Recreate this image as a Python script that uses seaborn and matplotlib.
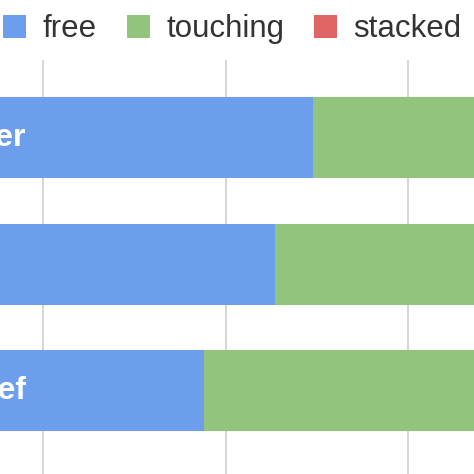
import pandas as pd
import numpy as np
import matplotlib
matplotlib.use('Agg')
import matplotlib.pyplot as plt
from matplotlib.patches import Patch
import seaborn as sns

categories = ['Other', 'Mid', 'Chief']
free = [248, 227, 188]
touching = [120, 140, 180]
stacked = [10, 10, 10]
series_names = ['free', 'touching', 'stacked']
colors = ['#6d9eeb', '#93c47d', '#e06666']

sns.set_theme(style='white')
plt.rcParams['font.family'] = ['Liberation Sans', 'DejaVu Sans']

df = pd.DataFrame({'cat': categories, 'free': free, 'touching': touching, 'stacked': stacked})
df['c_free'] = df['free']
df['c_touch'] = df['free'] + df['touching']
df['c_stack'] = df['c_touch'] + df['stacked']

fig = plt.figure(figsize=(4.74, 4.74), dpi=100)
ax = fig.add_axes([0, 0, 1, 414 / 474])

# draw cumulative sums back to front so they look stacked
for col, c in zip(['c_stack', 'c_touch', 'c_free'], colors[::-1]):
    sns.barplot(data=df, x=col, y='cat', orient='h', color=c, width=0.64,
                saturation=1, ax=ax, edgecolor='none')

ax.set_xlim(76.4, 336)
ax.set_ylim(2.66, -0.613)
ax.set_xticks([100, 200, 300])
ax.xaxis.grid(True, color='#cccccc', linewidth=1.1)
ax.set_axisbelow(True)
ax.tick_params(left=False, bottom=False, labelleft=False, labelbottom=False)
ax.set_xlabel('')
ax.set_ylabel('')
for s in ax.spines.values():
    s.set_visible(False)

# category labels sit inside the bars, mostly cut off by the crop
starts = [44, 44, 47]
for i, name in enumerate(categories):
    ax.text(starts[i], i, name, color='white', fontsize=23, fontweight='bold',
            ha='left', va='center', clip_on=True)

handles = [Patch(facecolor=c, edgecolor='none', label=n) for n, c in zip(series_names, colors)]
fig.legend(handles=handles, loc='center left', bbox_to_anchor=(3 / 474, 1 - 29 / 474),
           ncol=3, frameon=False, fontsize=22.5, handlelength=0.75, handleheight=0.75,
           handletextpad=0.52, columnspacing=0.95, borderpad=0, borderaxespad=0,
           labelcolor='#333333')

fig.savefig('out.png', dpi=100)
